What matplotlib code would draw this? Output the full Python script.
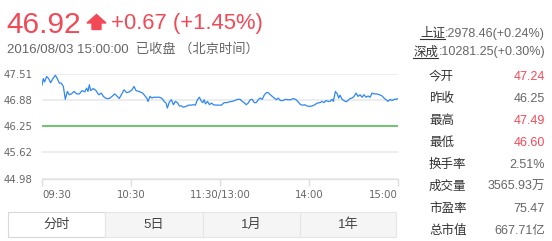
import matplotlib
matplotlib.use("Agg")
import matplotlib.pyplot as plt
from matplotlib.patches import Rectangle, Polygon
from matplotlib.lines import Line2D

plt.rcParams['font.family'] = ['Liberation Sans', 'Noto Sans CJK SC', 'DejaVu Sans']

# trading minutes since 09:30 (11:30 and 13:00 share minute 120)
minutes = [0, 0.9, 1.8, 3.1, 4.5, 5.8, 7.2, 9.0, 10.3, 11.7, 13.0, 14.4, 15.7, 17.1,
           18.4, 19.8, 21.6, 23.4, 25.2, 27.0, 28.8, 30.1, 31.0, 31.9, 32.8, 34.6,
           36.4, 38.2, 40.0, 41.4, 43.2, 45.4, 47.2, 49.0, 50.8, 52.1, 53.5, 55.3,
           57.1, 58.9, 60.7, 62.0, 63.4, 65.2, 67.4, 68.8, 70.6, 71.5, 72.8, 74.2,
           75.1, 77.3, 79.1, 80.9, 82.3, 83.6, 84.5, 85.9, 87.2, 88.6, 89.9, 91.3,
           92.6, 94.0, 95.3, 97.1, 98.9, 100.7, 102.1, 103.4, 104.8, 106.1, 107.5,
           108.4, 109.3, 110.2, 111.6, 112.9, 114.3, 115.6, 117.4, 119.2, 121.0,
           122.8, 124.6, 126.4, 128.2, 130.0, 131.8, 133.6, 135.0, 136.3, 137.7,
           139.0, 140.4, 141.7, 143.1, 144.4, 145.8, 147.1, 148.5, 149.8, 151.2,
           152.5, 153.9, 155.2, 156.6, 158.0, 159.3, 160.7, 162.3, 164.1, 165.9,
           167.7, 169.5, 171.3, 173.1, 174.4, 175.8, 177.1, 178.5, 180.3, 182.1,
           183.9, 185.6, 187.4, 188.8, 190.1, 191.5, 192.8, 194.2, 195.5, 196.4,
           197.8, 199.1, 200.0, 200.9, 202.3, 203.6, 205.0, 206.3, 207.7, 209.0,
           210.4, 211.7, 213.1, 214.4, 215.8, 217.1, 218.5, 219.8, 221.2, 222.5,
           223.9, 225.7, 227.5, 229.3, 230.6, 232.0, 233.3, 234.7, 236.0, 237.4,
           238.7, 240.0]
prices = [47.24, 47.40, 47.32, 47.45, 47.40, 47.30, 47.39, 47.48, 47.40, 47.29, 47.29,
          47.21, 46.90, 47.09, 47.01, 47.03, 47.09, 47.03, 47.03, 47.11, 47.08, 47.17,
          47.09, 47.25, 47.11, 47.16, 47.11, 47.01, 47.05, 46.97, 46.92, 46.92, 46.97,
          47.03, 46.97, 46.92, 47.01, 47.13, 47.06, 47.08, 47.13, 47.21, 47.11, 47.09,
          47.06, 47.01, 46.93, 46.85, 46.97, 46.93, 46.95, 46.95, 46.95, 46.92, 46.85,
          46.81, 46.69, 46.84, 46.89, 46.77, 46.85, 46.82, 46.74, 46.74, 46.71, 46.73,
          46.76, 46.76, 46.77, 46.76, 46.89, 46.95, 46.85, 46.82, 46.89, 46.79, 46.85,
          46.77, 46.81, 46.77, 46.76, 46.76, 46.76, 46.82, 46.82, 46.84, 46.85, 46.87,
          46.90, 46.90, 46.85, 46.82, 46.77, 46.81, 46.89, 46.90, 46.82, 46.82, 46.89,
          46.93, 46.90, 47.00, 47.06, 47.06, 47.01, 46.97, 46.93, 46.89, 46.93, 46.87,
          46.87, 46.90, 46.89, 46.89, 46.92, 46.89, 46.82, 46.77, 46.76, 46.77, 46.74,
          46.73, 46.74, 46.77, 46.81, 46.82, 46.85, 46.82, 46.87, 46.85, 46.85, 46.90,
          46.85, 47.09, 47.03, 46.93, 47.00, 46.90, 46.87, 46.84, 46.87, 46.92, 46.93,
          46.97, 47.05, 46.97, 47.01, 46.95, 47.01, 46.95, 46.98, 46.95, 47.05, 47.03,
          47.03, 47.01, 46.98, 46.93, 46.89, 46.85, 46.90, 46.87, 46.90, 46.90, 46.92]
prev_close = 46.25
y_ticks = [44.98, 45.62, 46.25, 46.88, 47.51]
x_ticks = [0, 60, 120, 180, 240]
x_labels = ['09:30', '10:30', '11:30/13:00', '14:00', '15:00']

price = '46.92'
change = '+0.67 (+1.45%)'
time_line = '2016/08/03 15:00:00  已收盘 （北京时间）'
index_prefix = ['上证', '深成']
index_values = [':2978.46(+0.24%)', ':10281.25(+0.30%)']
stat_names = ['今开', '昨收', '最高', '最低', '换手率', '成交量', '市盈率', '总市值']
stat_values = ['47.24', '46.25', '47.49', '46.60', '2.51%', '3565.93万', '75.47', '667.71亿']
stat_red = [True, False, True, True, False, False, False, False]
tabs = ['分时', '5日', '1月', '1年']

W, H = 552, 241
RED = '#f24957'
GRAY = '#666666'


def px(x, y):
    return x / W, 1 - y / H


fig = plt.figure(figsize=(W / 100, H / 100), dpi=100)
ax = fig.add_axes([42 / W, 1 - 179 / H, 356 / W, 105 / H])

ax.plot(minutes, prices, color='#2f86f6', lw=0.9)
ax.axhline(prev_close, color='#4cbb4c', lw=1.1)
ax.set_xlim(0, 240)
ax.set_ylim(y_ticks[0], y_ticks[-1])
ax.set_yticks(y_ticks)
ax.set_yticklabels(['%.2f' % v for v in y_ticks], fontfamily='DejaVu Sans')
ax.set_xticks(x_ticks)
ax.set_xticklabels(x_labels, fontfamily='DejaVu Sans')
for t, ha in zip(ax.get_xticklabels(), ['left', 'center', 'center', 'center', 'right']):
    t.set_ha(ha)
ax.tick_params(axis='y', length=0, pad=7, labelsize=7.3, colors=GRAY)
ax.tick_params(axis='x', length=5, width=1, color='#dddddd', pad=3, labelsize=7.3, labelcolor=GRAY)
ax.grid(axis='y', color='#e8e8e8', lw=1.1)
for s in ['top', 'right', 'left']:
    ax.spines[s].set_visible(False)
ax.spines['bottom'].set_color('#e0e0e0')
ax.set_axisbelow(True)

# header
fig.text(*px(6, 33), price, color=RED, fontsize=21.5, va='baseline')
fig.patches.append(Polygon([px(96.5, 14.5), px(106, 23), px(101, 23), px(101, 29.5),
                            px(92, 29.5), px(92, 23), px(87, 23)],
                           closed=True, transform=fig.transFigure, color=RED))
fig.text(*px(111, 28.5), change, color=RED, fontsize=15.8, va='baseline')
fig.text(*px(7, 53), time_line, color=GRAY, fontsize=9.5, va='baseline')

# index quotes
fig.canvas.draw()
r = fig.canvas.get_renderer()
for i, (pre, val) in enumerate(zip(index_prefix, index_values)):
    yb = 37 + i * 18.5
    t = fig.text(*px(545, yb), val, color=GRAY, fontsize=9, va='baseline', ha='right')
    bb = t.get_window_extent(renderer=r)
    t2 = fig.text(bb.x0 / W, 1 - yb / H, pre, color='#333333', fontsize=9,
                  va='baseline', ha='right')
    bb2 = t2.get_window_extent(renderer=r)
    fig.lines.append(Line2D([bb2.x0 / W, bb2.x1 / W], [1 - (yb + 2) / H] * 2,
                            transform=fig.transFigure, color='#333333', lw=0.8))

# stats table
for i, (n, v, red) in enumerate(zip(stat_names, stat_values, stat_red)):
    y = 77 + i * 22
    fig.text(*px(429, y), n, color='#333333', fontsize=9, va='center')
    fig.text(*px(545, y), v, color=RED if red else GRAY, fontsize=9, va='center', ha='right')

# tabs
edges = [8, 105, 203, 300, 396]
for i, name in enumerate(tabs):
    x0, x1 = edges[i], edges[i + 1]
    if i == 0:
        fc, ec = 'white', '#d8d8d8'
    else:
        fc, ec = '#f5f5f5', '#e6e6e6'
    fig.patches.append(Rectangle(px(x0, 237), (x1 - x0) / W, 25 / H,
                                 transform=fig.transFigure, fc=fc, ec=ec, lw=0.8))
    fig.text(*px((x0 + x1) / 2, 225), name, color='#444444', fontsize=9.5,
             va='center', ha='center')

fig.savefig('out.png', dpi=100)
